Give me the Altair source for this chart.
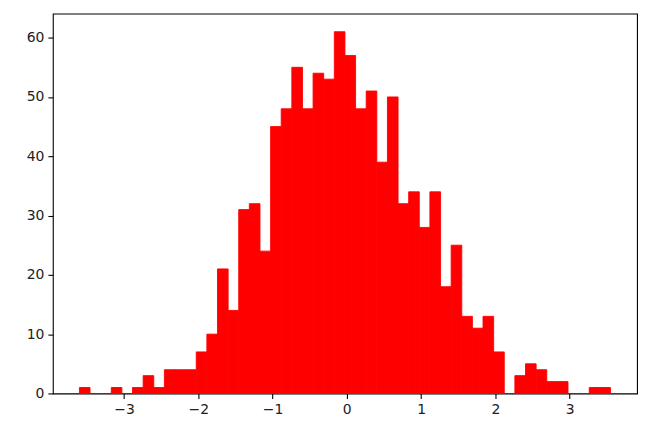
import altair as alt
import pandas as pd

# Histogram of 1000 samples, 50 equal-width bins
counts = [1, 0, 0, 1, 0, 1, 3, 1, 4, 4,
          4, 7, 10, 21, 14, 31, 32, 24, 45, 48,
          55, 48, 54, 53, 61, 57, 48, 51, 39, 50,
          32, 34, 28, 34, 18, 25, 13, 11, 13, 7,
          0, 3, 5, 4, 2, 2, 0, 0, 1, 1]
bin_min = -3.60
bin_max = 3.55
x_ticks = [-3, -2, -1, 0, 1, 2, 3]
y_ticks = [0, 10, 20, 30, 40, 50, 60]

n = len(counts)
w = (bin_max - bin_min) / n
df = pd.DataFrame({
    "start": [bin_min + i * w for i in range(n)],
    "end": [bin_min + (i + 1) * w for i in range(n)],
    "count": counts,
})
df = df[df["count"] > 0]

span = bin_max - bin_min
x_dom = [bin_min - 0.05 * span, bin_max + 0.05 * span]
y_dom = [0, max(counts) * 1.05]

font = "DejaVu Sans"
axis_common = dict(
    grid=False, domain=False, ticks=True, tickSize=5, tickWidth=1.1,
    tickColor="#000", labelFont=font, labelFontSize=14, labelColor="#222",
    labelPadding=4, title=None, zindex=1,
)

chart = alt.Chart(df).mark_rect(color="#ff0000", stroke="#ff0000", strokeWidth=0.9).encode(
    x=alt.X("start:Q", scale=alt.Scale(domain=x_dom, nice=False, zero=False),
            axis=alt.Axis(values=x_ticks, format="d", **axis_common)),
    x2="end:Q",
    y=alt.Y("count:Q", scale=alt.Scale(domain=y_dom, nice=False),
            axis=alt.Axis(values=y_ticks, **axis_common)),
    y2=alt.datum(0),
).properties(
    width=586, height=381,
    autosize=alt.AutoSizeParams(type="none"),
    padding={"left": 45, "top": 5, "right": 10, "bottom": 30},
    background="white",
).configure_view(
    stroke="#000", strokeWidth=1.1, fill="white",
)

chart.save("out.html", embed_options={"renderer": "svg", "actions": False})
